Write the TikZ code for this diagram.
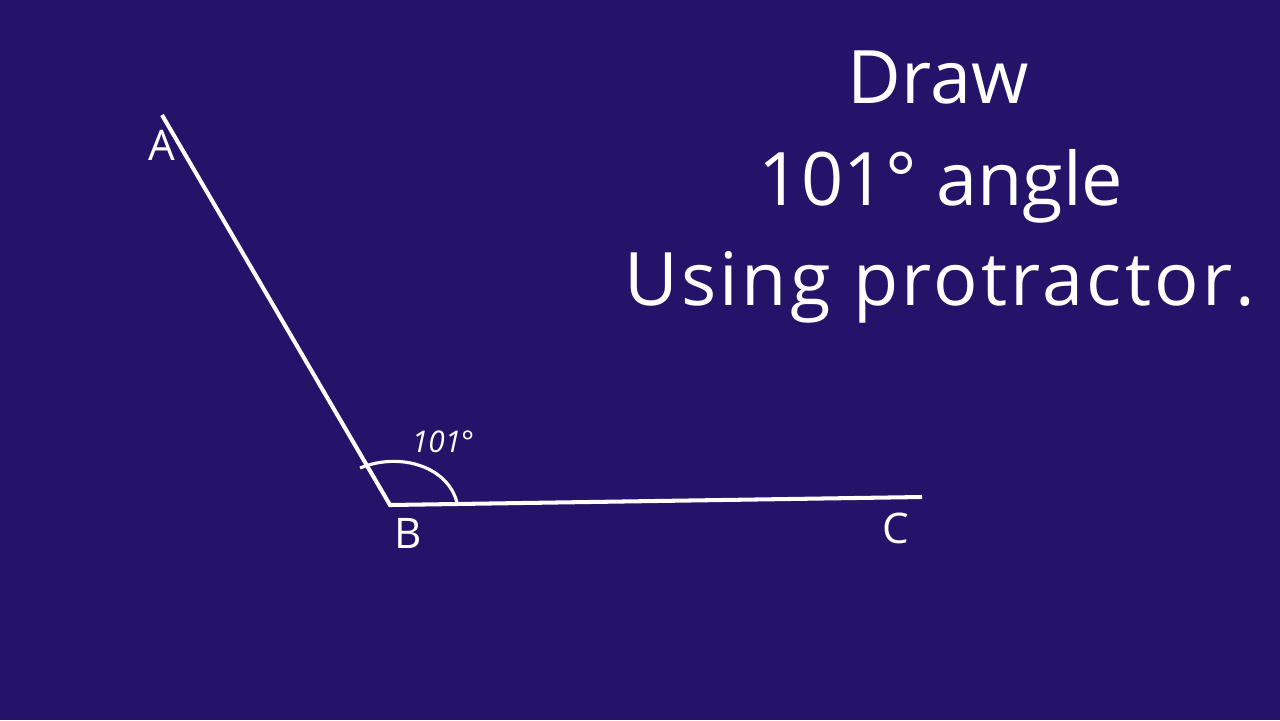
\documentclass[tikz,border=0pt]{standalone}
\usepackage{fontspec}
\setmainfont{Open Sans}
\usepackage{tikz}
\usetikzlibrary{positioning}

\begin{document}
\begin{tikzpicture}[x=0.02cm, y=-0.02cm, every node/.style={text=white, inner sep=0pt}]
    % Define colors
    \definecolor{boardcolor}{RGB}{35, 19, 105}

    % Background
    \fill[boardcolor] (0,0) rectangle (1280,720);
    \useasboundingbox (0,0) rectangle (1280,720);

    % Title
    \node[font=\fontsize{42}{50}\selectfont, anchor=base] (title1) at (938, 103) {Draw};
    \node[font=\fontsize{42}{50}\selectfont, anchor=base] (title2) at (941, 205) {101° angle};
    \node[font=\fontsize{42}{50}\selectfont\addfontfeatures{LetterSpace=4.4}, anchor=base] (title3) at (940, 305) {Using protractor.};

    % Angle arms
    \coordinate (A) at (162, 115);
    \coordinate (B) at (390, 505);
    \coordinate (C) at (922, 497);
    \draw[white, line width=2.3pt] (A) -- (B) -- (C);

    % Angle mark
    \coordinate (arcstart) at (457, 503);
    \coordinate (arcend) at (360, 468);
    \draw[white, line width=1.8pt] (arcstart) .. controls (449, 468) and (402, 451) .. (arcend);
    \node[font=\fontsize{17}{20}\selectfont\itshape] (deg) at (443, 442) {101°};

    % Point labels
    \node[font=\fontsize{24}{28}\selectfont] (labA) at (162, 145) {A};
    \node[font=\fontsize{24}{28}\selectfont] (labB) at (408, 533) {B};
    \node[font=\fontsize{24}{28}\selectfont] (labC) at (896, 528) {C};
\end{tikzpicture}
\end{document}
